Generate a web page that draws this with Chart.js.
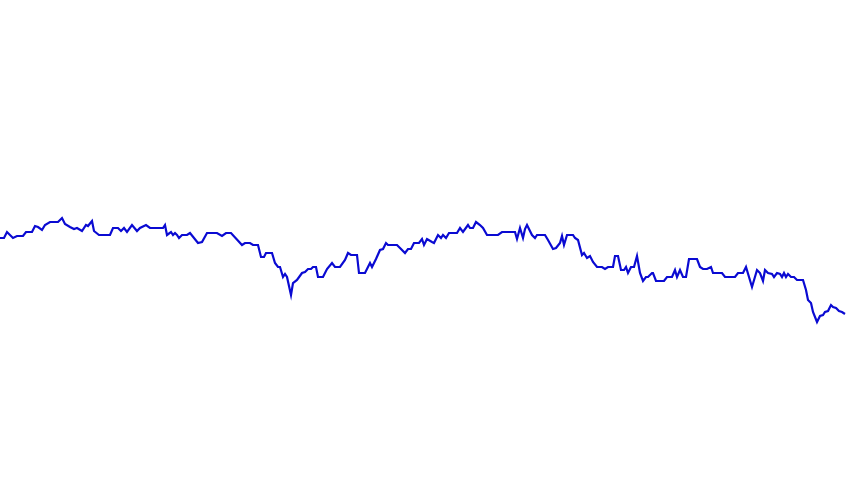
<!DOCTYPE html>
<html>
<head>
<meta charset="utf-8">
<script src="https://cdn.jsdelivr.net/npm/chart.js@4/dist/chart.umd.min.js"></script>
<style>
  html, body { margin: 0; padding: 0; background: #fff; }
  #wrap { width: 852px; height: 480px; }
</style>
</head>
<body>
<div id="wrap"><canvas id="chart" width="852" height="480"></canvas></div>
<script>
// time steps along the series
const steps = [
  0, 4, 7, 13, 17, 23, 26, 32, 35, 38,
  42, 45, 50, 58, 62, 65, 70, 74, 77, 82,
  86, 88, 92, 94, 99, 110, 113, 118, 121, 124,
  127, 132, 137, 140, 146, 150, 163, 165, 167, 171,
  173, 175, 177, 179, 182, 187, 190, 198, 202, 207,
  217, 222, 226, 231, 242, 245, 250, 253, 258, 261,
  264, 266, 272, 275, 278, 280, 283, 285, 287, 291,
  293, 297, 302, 305, 308, 311, 313, 316, 318, 323,
  327, 332, 335, 340, 345, 348, 351, 357, 359, 365,
  370, 372, 376, 380, 383, 386, 388, 397, 400, 405,
  408, 411, 414, 419, 422, 424, 427, 432, 434, 438,
  441, 443, 446, 449, 457, 460, 463, 468, 470, 473,
  476, 480, 483, 487, 498, 502, 515, 517, 520, 523,
  525, 527, 532, 535, 537, 545, 548, 553, 556, 560,
  562, 564, 567, 573, 575, 578, 582, 584, 587, 590,
  593, 597, 602, 605, 608, 613, 615, 618, 621, 624,
  626, 628, 631, 634, 637, 640, 643, 646, 648, 652,
  653, 656, 664, 667, 672, 675, 677, 680, 683, 686,
  689, 697, 700, 703, 707, 711, 713, 722, 725, 735,
  738, 743, 746, 752, 757, 760, 763, 765, 768, 772,
  774, 777, 780, 782, 784, 786, 788, 791, 794, 797,
  803, 806, 808, 811, 813, 817, 820, 823, 825, 828,
  831, 833, 836, 839, 842, 845
];

// price at each step
const prices = [
  24.2, 24.2, 24.8, 24.2, 24.4, 24.4, 24.8, 24.8, 25.4, 25.3,
  25.0, 25.5, 25.8, 25.8, 26.2, 25.6, 25.3, 25.1, 25.2, 24.9,
  25.5, 25.4, 25.9, 24.9, 24.5, 24.5, 25.2, 25.2, 24.9, 25.2,
  24.8, 25.5, 24.9, 25.2, 25.5, 25.2, 25.2, 25.5, 24.5, 24.8,
  24.5, 24.7, 24.5, 24.2, 24.5, 24.5, 24.7, 23.7, 23.8, 24.7,
  24.7, 24.4, 24.7, 24.7, 23.5, 23.7, 23.7, 23.5, 23.5, 22.3,
  22.3, 22.7, 22.7, 21.7, 21.3, 21.3, 20.3, 20.6, 20.3, 18.5,
  19.7, 20.0, 20.7, 20.8, 21.1, 21.1, 21.3, 21.3, 20.3, 20.3,
  21.1, 21.7, 21.3, 21.3, 22.0, 22.7, 22.5, 22.5, 20.7, 20.7,
  21.7, 21.3, 22.1, 23.0, 23.1, 23.7, 23.5, 23.5, 23.2, 22.7,
  23.1, 23.1, 23.7, 23.7, 24.1, 23.5, 24.1, 23.8, 23.7, 24.5,
  24.2, 24.5, 24.2, 24.7, 24.7, 25.2, 24.8, 25.5, 25.2, 25.2,
  25.8, 25.5, 25.2, 24.5, 24.5, 24.8, 24.8, 24.1, 25.2, 24.2,
  25.1, 25.5, 24.5, 24.2, 24.5, 24.5, 24.0, 23.1, 23.2, 23.7,
  24.4, 23.5, 24.5, 24.5, 24.2, 24.0, 22.5, 22.7, 22.2, 22.4,
  21.8, 21.3, 21.3, 21.1, 21.3, 21.3, 22.4, 22.4, 21.0, 21.0,
  21.3, 20.7, 21.3, 21.3, 22.4, 20.7, 19.9, 20.3, 20.3, 20.7,
  20.7, 19.9, 19.9, 20.3, 20.3, 21.0, 20.3, 21.0, 20.3, 20.3,
  22.1, 22.1, 21.3, 21.1, 21.1, 21.3, 20.7, 20.7, 20.3, 20.3,
  20.7, 20.7, 21.3, 19.3, 21.0, 20.7, 19.9, 21.0, 20.7, 20.6,
  20.3, 20.7, 20.6, 20.3, 20.7, 20.3, 20.6, 20.3, 20.3, 20.0,
  20.0, 19.0, 18.0, 17.7, 16.8, 15.8, 16.4, 16.5, 16.8, 16.9,
  17.5, 17.3, 17.2, 16.9, 16.8, 16.6
];

// axis ranges (axes are hidden)
const stepRange = [0, 852];
const priceRange = [0, 48];

const ctx = document.getElementById("chart");

new Chart(ctx, {
  type: 'line',
  data: {
    datasets: [{
      label: 'Price',
      data: steps.map((s, i) => ({ x: s, y: prices[i] })),
      borderColor: '#0a0ad2',
      backgroundColor: 'transparent',
      borderWidth: 2.2,
      pointRadius: 0,
      tension: 0,
      fill: false
    }]
  },
  options: {
    responsive: false,
    animation: false,
    devicePixelRatio: 1,
    plugins: {
      legend: { display: false },
      tooltip: { enabled: false }
    },
    scales: {
      x: { type: 'linear', display: false, min: stepRange[0], max: stepRange[1] },
      y: { type: 'linear', display: false, min: priceRange[0], max: priceRange[1] }
    },
    layout: { padding: 0 }
  }
});
</script>
</body>
</html>
